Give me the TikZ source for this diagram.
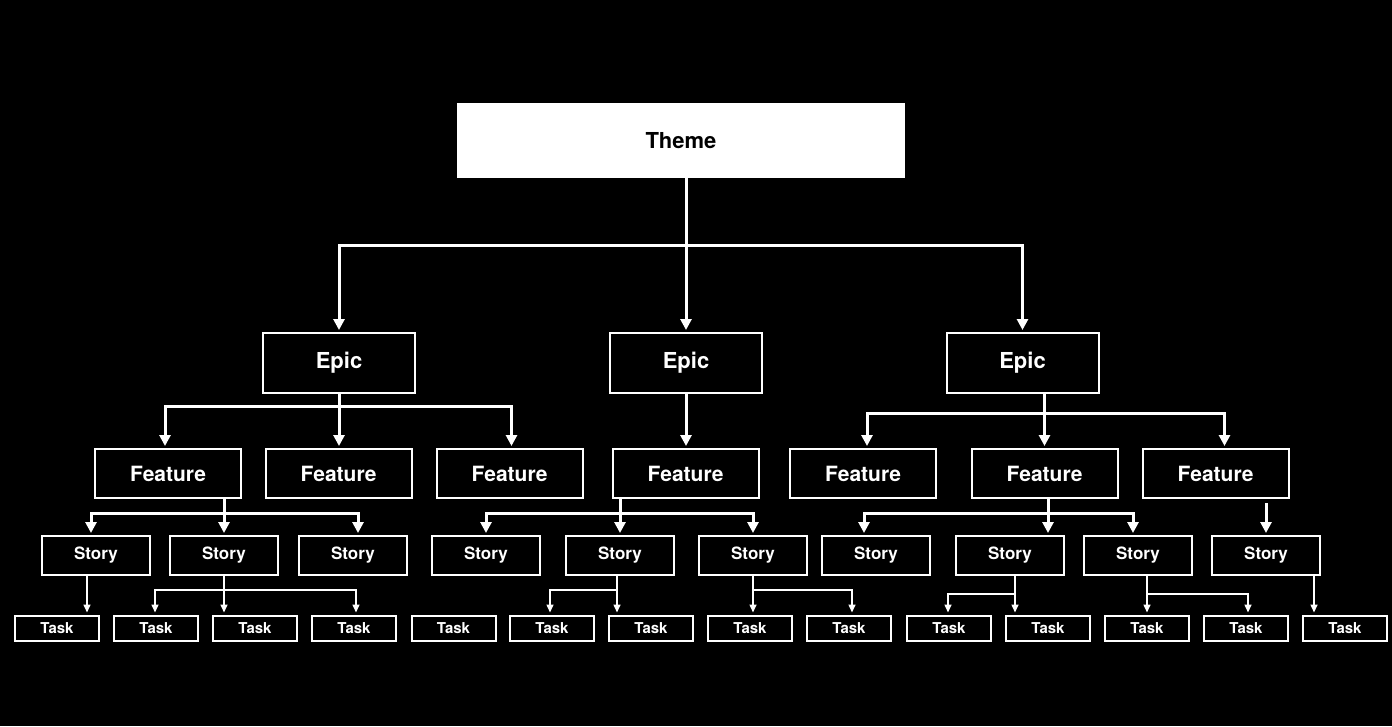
\documentclass[tikz,border=0pt]{standalone}
\usepackage{fontspec}
\setmainfont{TeX Gyre Heros}
\usetikzlibrary{arrows.meta}
\begin{document}
\begin{tikzpicture}[x=1pt,y=-1pt,
  box/.style={draw=white,line width=2pt,text=white,inner sep=0pt,font=\bfseries},
  epic/.style={box,minimum width=152,minimum height=60,font=\bfseries\fontsize{22}{24}\selectfont},
  feat/.style={box,minimum width=146,minimum height=49,font=\bfseries\fontsize{21}{24}\selectfont},
  story/.style={box,minimum width=108,minimum height=39,font=\bfseries\fontsize{17}{20}\selectfont},
  task/.style={box,minimum width=84,minimum height=25,font=\bfseries\fontsize{15}{18}\selectfont},
  thick arr/.style={draw=white,line width=3pt,-{Triangle[width=11,length=11]},shorten >=2},
  thin arr/.style={draw=white,line width=1.5pt,-{Triangle[width=7,length=8]},shorten >=2},
  thick ln/.style={draw=white,line width=3pt},
  thin ln/.style={draw=white,line width=1.5pt}]
\fill[black] (0,0) rectangle (1392,726);
\useasboundingbox (0,0) rectangle (1392,726);
\node[fill=white,minimum width=448,minimum height=75,inner sep=0pt,font=\fontsize{22}{24}\selectfont\bfseries] (theme) at (681,140.5) {Theme};
\node[epic] (e1) at (339,363) {Epic};
\node[epic] (e2) at (686,363) {Epic};
\node[epic] (e3) at (1022.5,363) {Epic};
\foreach \n/\x in {1/168,2/338.5,3/509.5,4/685.5,5/863,6/1044.5,7/1215.5}
  \node[feat] (f\n) at (\x,473.5) {Feature};
\foreach \n/\x in {1/96,2/224,3/353,4/486,5/620,6/753,7/876,8/1010,9/1138,10/1266}
  \node[story] (s\n) at (\x,555.5) {Story};
\foreach \n/\x in {1/57,2/156,3/255,4/354,5/453.5,6/552,7/651,8/750,9/849,10/949,11/1048,12/1147,13/1246,14/1345}
  \node[task] (t\n) at (\x,628) {Task};
% theme
\draw[thick ln] (e2.north |- theme.south) -- (e2.north |- 0,245);
\draw[thick arr] (e2.north |- 0,245) -- (e2.north);
\draw[thick arr] (e2.north |- 0,245) -| (e1.north);
\draw[thick arr] (e2.north |- 0,245) -| (e3.north);
% epics
\draw[thick ln] (e1.south) -- (e1.south |- 0,406);
\draw[thick arr] (e1.south |- 0,406) -| ([xshift=-3]f1.north);
\draw[thick arr] (e1.south |- 0,406) -- (e1.south |- f2.north);
\draw[thick arr] (e1.south |- 0,406) -| ([xshift=2]f3.north);
\draw[thick arr] (e2.south) -- (e2.south |- f4.north);
\draw[thick ln] ([xshift=22]e3.south) -- ([xshift=22]e3.south |- 0,413);
\draw[thick arr] ([xshift=22]e3.south |- 0,413) -| ([xshift=4]f5.north);
\draw[thick arr] ([xshift=22]e3.south |- 0,413) -- ([xshift=22]e3.south |- f6.north);
\draw[thick arr] ([xshift=22]e3.south |- 0,413) -| ([xshift=9]f7.north);
% features
\draw[thick ln] (s2.north |- f1.south) -- (s2.north |- 0,513);
\draw[thick arr] (s2.north |- 0,513) -| ([xshift=-5]s1.north);
\draw[thick arr] (s2.north |- 0,513) -- (s2.north);
\draw[thick arr] (s2.north |- 0,513) -| ([xshift=5]s3.north);
\draw[thick ln] (s5.north |- f4.south) -- (s5.north |- 0,513);
\draw[thick arr] (s5.north |- 0,513) -| (s4.north);
\draw[thick arr] (s5.north |- 0,513) -- (s5.north);
\draw[thick arr] (s5.north |- 0,513) -| (s6.north);
\draw[thick ln] ([xshift=38]s8.north |- f6.south) -- ([xshift=38]s8.north |- 0,513);
\draw[thick arr] ([xshift=38]s8.north |- 0,513) -| ([xshift=-12]s7.north);
\draw[thick arr] ([xshift=38]s8.north |- 0,513) -- ([xshift=38]s8.north);
\draw[thick arr] ([xshift=38]s8.north |- 0,513) -| ([xshift=-5]s9.north);
\draw[thick arr] ([yshift=-4]f7.south -| s10.north) -- (s10.north);
% stories
\draw[thin arr] ([xshift=-9]s1.south) -- ([xshift=-9]s1.south |- t1.north);
\draw[thin ln] (s2.south) -- (s2.south |- 0,590);
\draw[thin arr] (s2.south |- 0,590) -| ([xshift=-1]t2.north);
\draw[thin arr] (s2.south |- 0,590) -- (s2.south |- t3.north);
\draw[thin arr] (s2.south |- 0,590) -| ([xshift=2]t4.north);
\draw[thin ln] ([xshift=-3]s5.south) -- ([xshift=-3]s5.south |- 0,590);
\draw[thin ln] (s6.south) -- (s6.south |- 0,590);
\draw[thin arr] ([xshift=-3]s5.south |- 0,590) -| ([xshift=-2]t6.north);
\draw[thin arr] ([xshift=-3]s5.south |- 0,590) -- ([xshift=-3]s5.south |- t7.north);
\draw[thin arr] (s6.south |- 0,590) -- (s6.south |- t8.north);
\draw[thin arr] (s6.south |- 0,590) -| ([xshift=3]t9.north);
\draw[thin ln] ([xshift=5]s8.south) -- ([xshift=5]s8.south |- 0,594);
\draw[thin ln] ([xshift=9]s9.south) -- ([xshift=9]s9.south |- 0,594);
\draw[thin arr] ([xshift=5]s8.south |- 0,594) -| ([xshift=-1]t10.north);
\draw[thin arr] ([xshift=5]s8.south |- 0,594) -- ([xshift=5]s8.south |- t11.north);
\draw[thin arr] ([xshift=9]s9.south |- 0,594) -- ([xshift=9]s9.south |- t12.north);
\draw[thin arr] ([xshift=9]s9.south |- 0,594) -| ([xshift=2]t13.north);
\draw[thin arr] ([xshift=48]s10.south) -- ([xshift=48]s10.south |- t14.north);
\end{tikzpicture}
\end{document}
